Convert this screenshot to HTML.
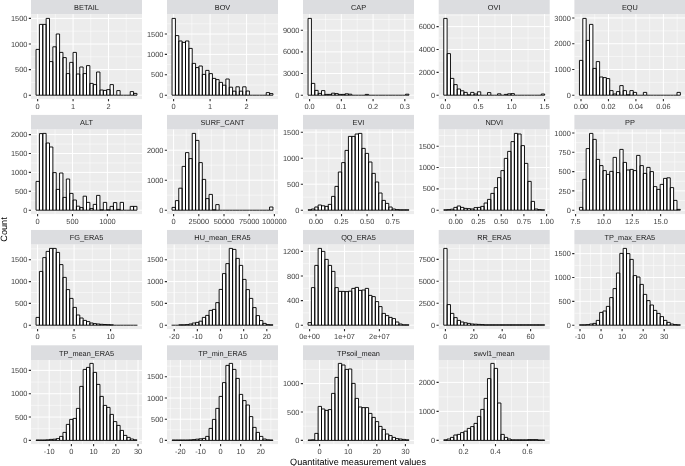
<!DOCTYPE html>
<html><head><meta charset="utf-8"><title>Histograms</title>
<style>html,body{margin:0;padding:0;background:#fff}svg{display:block}</style></head>
<body>
<svg width="685" height="466" viewBox="0 0 685 466" text-rendering="geometricPrecision" font-family='"Liberation Sans", Arial, Helvetica, sans-serif'>
<rect x="0" y="0" width="685" height="466" fill="#ffffff"/>
<rect x="31" y="-0.1" width="111" height="14.2" fill="#dcdde0"/>
<text x="86.5" y="10.25" font-size="7.35" fill="#1a1a1a" text-anchor="middle">BETAIL</text>
<rect x="31" y="14.1" width="111" height="85" fill="#ececec"/>
<path d="M55.37 14.1V99.1M90.79 14.1V99.1M126.21 14.1V99.1M31 82.4H142M31 56.8H142M31 31.2H142" stroke="#fff" stroke-width="0.5" fill="none"/>
<path d="M37.66 14.1V99.1M73.08 14.1V99.1M108.5 14.1V99.1M31 95.2H142M31 69.6H142M31 44H142M31 18.4H142" stroke="#fff" stroke-width="1.0" fill="none"/>
<path d="M113.41 95.2H116.77M120.14 95.2H123.5M123.5 95.2H126.86M126.86 95.2H130.23" fill="none" stroke="#111" stroke-width="0.95"/>
<path d="M36.05 95.2v-45.8h3.36v45.8zM39.41 95.2v-70.8h3.36v70.8zM42.77 95.2v-70.8h3.36v70.8zM46.14 95.2v-76.8h3.36v76.8zM49.5 95.2v-33.6h3.36v33.6zM52.86 95.2v-48.4h3.36v48.4zM56.23 95.2v-61.2h3.36v61.2zM59.59 95.2v-42.8h3.36v42.8zM62.95 95.2v-37.6h3.36v37.6zM66.32 95.2v-21.6h3.36v21.6zM69.68 95.2v-32.8h3.36v32.8zM73.05 95.2v-42.8h3.36v42.8zM76.41 95.2v-21.2h3.36v21.2zM79.77 95.2v-28.2h3.36v28.2zM83.14 95.2v-21.6h3.36v21.6zM86.5 95.2v-29.6h3.36v29.6zM89.86 95.2v-11.8h3.36v11.8zM93.23 95.2v-10.6h3.36v10.6zM96.59 95.2v-23.2h3.36v23.2zM99.95 95.2v-5.2h3.36v5.2zM103.32 95.2v-4.8h3.36v4.8zM106.68 95.2v-5.6h3.36v5.6zM110.05 95.2v-10.6h3.36v10.6zM116.77 95.2v-4.6h3.36v4.6zM130.23 95.2v-3.6h3.36v3.6zM133.59 95.2v-1.8h3.36v1.8z" fill="#fff" stroke="#000" stroke-width="0.92" stroke-linejoin="miter"/>
<path d="M37.66 99.1v2.2M73.08 99.1v2.2M108.5 99.1v2.2M31 95.2h-2.2M31 69.6h-2.2M31 44h-2.2M31 18.4h-2.2" stroke="#2b2b2b" stroke-width="1.1" fill="none"/>
<text x="37.66" y="109" font-size="7.4" fill="#424242" text-anchor="middle">0</text>
<text x="73.08" y="109" font-size="7.4" fill="#424242" text-anchor="middle">1</text>
<text x="108.5" y="109" font-size="7.4" fill="#424242" text-anchor="middle">2</text>
<text x="27.4" y="97.8" font-size="7.4" fill="#424242" text-anchor="end">0</text>
<text x="27.4" y="72.2" font-size="7.4" fill="#424242" text-anchor="end">500</text>
<text x="27.4" y="46.6" font-size="7.4" fill="#424242" text-anchor="end">1000</text>
<text x="27.4" y="21" font-size="7.4" fill="#424242" text-anchor="end">1500</text>
<rect x="167" y="-0.1" width="111" height="14.2" fill="#dcdde0"/>
<text x="222.5" y="10.25" font-size="7.35" fill="#1a1a1a" text-anchor="middle">BOV</text>
<rect x="167" y="14.1" width="111" height="85" fill="#ececec"/>
<path d="M191.85 14.1V99.1M228.35 14.1V99.1M264.85 14.1V99.1M167 85H278M167 64.6H278M167 44.2H278M167 23.8H278" stroke="#fff" stroke-width="0.5" fill="none"/>
<path d="M173.6 14.1V99.1M210.1 14.1V99.1M246.6 14.1V99.1M167 95.2H278M167 74.8H278M167 54.4H278M167 34H278" stroke="#fff" stroke-width="1.0" fill="none"/>
<path d="M249.41 95.2H252.77M252.77 95.2H256.14M256.14 95.2H259.5M259.5 95.2H262.86M262.86 95.2H266.23" fill="none" stroke="#111" stroke-width="0.95"/>
<path d="M172.05 95.2v-76.8h3.36v76.8zM175.41 95.2v-59.6h3.36v59.6zM178.77 95.2v-54.2h3.36v54.2zM182.14 95.2v-52.8h3.36v52.8zM185.5 95.2v-54.2h3.36v54.2zM188.86 95.2v-46.8h3.36v46.8zM192.23 95.2v-31.8h3.36v31.8zM195.59 95.2v-27.6h3.36v27.6zM198.95 95.2v-29.2h3.36v29.2zM202.32 95.2v-20.8h3.36v20.8zM205.68 95.2v-24.8h3.36v24.8zM209.05 95.2v-21.6h3.36v21.6zM212.41 95.2v-16.8h3.36v16.8zM215.77 95.2v-15.6h3.36v15.6zM219.14 95.2v-12.8h3.36v12.8zM222.5 95.2v-10h3.36v10zM225.86 95.2v-16.2h3.36v16.2zM229.23 95.2v-8h3.36v8zM232.59 95.2v-4h3.36v4zM235.95 95.2v-8.4h3.36v8.4zM239.32 95.2v-4h3.36v4zM242.68 95.2v-8.4h3.36v8.4zM246.05 95.2v-4.2h3.36v4.2zM266.23 95.2v-2.6h3.36v2.6zM269.59 95.2v-1.6h3.36v1.6z" fill="#fff" stroke="#000" stroke-width="0.92" stroke-linejoin="miter"/>
<path d="M173.6 99.1v2.2M210.1 99.1v2.2M246.6 99.1v2.2M167 95.2h-2.2M167 74.8h-2.2M167 54.4h-2.2M167 34h-2.2" stroke="#2b2b2b" stroke-width="1.1" fill="none"/>
<text x="173.6" y="109" font-size="7.4" fill="#424242" text-anchor="middle">0</text>
<text x="210.1" y="109" font-size="7.4" fill="#424242" text-anchor="middle">1</text>
<text x="246.6" y="109" font-size="7.4" fill="#424242" text-anchor="middle">2</text>
<text x="163.4" y="97.8" font-size="7.4" fill="#424242" text-anchor="end">0</text>
<text x="163.4" y="77.4" font-size="7.4" fill="#424242" text-anchor="end">500</text>
<text x="163.4" y="57" font-size="7.4" fill="#424242" text-anchor="end">1000</text>
<text x="163.4" y="36.6" font-size="7.4" fill="#424242" text-anchor="end">1500</text>
<rect x="303" y="-0.1" width="111" height="14.2" fill="#dcdde0"/>
<text x="358.5" y="10.25" font-size="7.35" fill="#1a1a1a" text-anchor="middle">CAP</text>
<rect x="303" y="14.1" width="111" height="85" fill="#ececec"/>
<path d="M325.47 14.1V99.1M357.21 14.1V99.1M388.95 14.1V99.1M303 84.37H414M303 62.71H414M303 41.05H414M303 19.39H414" stroke="#fff" stroke-width="0.5" fill="none"/>
<path d="M309.6 14.1V99.1M341.34 14.1V99.1M373.08 14.1V99.1M404.82 14.1V99.1M303 95.2H414M303 73.54H414M303 51.88H414M303 30.22H414" stroke="#fff" stroke-width="1.0" fill="none"/>
<path d="M351.77 95.2H355.14M355.14 95.2H358.5M358.5 95.2H361.86M361.86 95.2H365.23M368.59 95.2H371.95M371.95 95.2H375.32M375.32 95.2H378.68M378.68 95.2H382.05M382.05 95.2H385.41M385.41 95.2H388.77M388.77 95.2H392.14M392.14 95.2H395.5M395.5 95.2H398.86M398.86 95.2H402.23M402.23 95.2H405.59" fill="none" stroke="#111" stroke-width="0.95"/>
<path d="M308.05 95.2v-76.8h3.36v76.8zM311.41 95.2v-11.8h3.36v11.8zM314.77 95.2v-4.8h3.36v4.8zM318.14 95.2v-1.8h3.36v1.8zM321.5 95.2v-4.6h3.36v4.6zM324.86 95.2v-0.8h3.36v0.8zM328.23 95.2v-0.8h3.36v0.8zM331.59 95.2v-2h3.36v2zM334.95 95.2v-1.6h3.36v1.6zM338.32 95.2v-0.8h3.36v0.8zM341.68 95.2v-0.8h3.36v0.8zM345.05 95.2v-1.4h3.36v1.4zM348.41 95.2v-1h3.36v1zM365.23 95.2v-0.8h3.36v0.8zM405.59 95.2v-1h3.36v1z" fill="#fff" stroke="#000" stroke-width="0.92" stroke-linejoin="miter"/>
<path d="M309.6 99.1v2.2M341.34 99.1v2.2M373.08 99.1v2.2M404.82 99.1v2.2M303 95.2h-2.2M303 73.54h-2.2M303 51.88h-2.2M303 30.22h-2.2" stroke="#2b2b2b" stroke-width="1.1" fill="none"/>
<text x="309.6" y="109" font-size="7.4" fill="#424242" text-anchor="middle">0.0</text>
<text x="341.34" y="109" font-size="7.4" fill="#424242" text-anchor="middle">0.1</text>
<text x="373.08" y="109" font-size="7.4" fill="#424242" text-anchor="middle">0.2</text>
<text x="404.82" y="109" font-size="7.4" fill="#424242" text-anchor="middle">0.3</text>
<text x="299.4" y="97.8" font-size="7.4" fill="#424242" text-anchor="end">0</text>
<text x="299.4" y="76.14" font-size="7.4" fill="#424242" text-anchor="end">3000</text>
<text x="299.4" y="54.48" font-size="7.4" fill="#424242" text-anchor="end">6000</text>
<text x="299.4" y="32.82" font-size="7.4" fill="#424242" text-anchor="end">9000</text>
<rect x="438.7" y="-0.1" width="111" height="14.2" fill="#dcdde0"/>
<text x="494.2" y="10.25" font-size="7.35" fill="#1a1a1a" text-anchor="middle">OVI</text>
<rect x="438.7" y="14.1" width="111" height="85" fill="#ececec"/>
<path d="M461.93 14.1V99.1M494.99 14.1V99.1M528.05 14.1V99.1M438.7 83.77H549.7M438.7 60.91H549.7M438.7 38.05H549.7M438.7 15.19H549.7" stroke="#fff" stroke-width="0.5" fill="none"/>
<path d="M445.4 14.1V99.1M478.46 14.1V99.1M511.52 14.1V99.1M544.58 14.1V99.1M438.7 95.2H549.7M438.7 72.34H549.7M438.7 49.48H549.7M438.7 26.62H549.7" stroke="#fff" stroke-width="1.0" fill="none"/>
<path d="M480.75 95.2H484.11M484.11 95.2H487.47M490.84 95.2H494.2M494.2 95.2H497.56M500.93 95.2H504.29M514.38 95.2H517.75M517.75 95.2H521.11M521.11 95.2H524.47M524.47 95.2H527.84M527.84 95.2H531.2M531.2 95.2H534.56M534.56 95.2H537.93M537.93 95.2H541.29" fill="none" stroke="#111" stroke-width="0.95"/>
<path d="M443.75 95.2v-76.8h3.36v76.8zM447.11 95.2v-41.6h3.36v41.6zM450.47 95.2v-16.8h3.36v16.8zM453.84 95.2v-10.6h3.36v10.6zM457.2 95.2v-6.2h3.36v6.2zM460.56 95.2v-4.4h3.36v4.4zM463.93 95.2v-2.8h3.36v2.8zM467.29 95.2v-0.4h3.36v0.4zM470.65 95.2v-2.8h3.36v2.8zM474.02 95.2v-1.2h3.36v1.2zM477.38 95.2v-3.4h3.36v3.4zM487.47 95.2v-2.6h3.36v2.6zM497.56 95.2v-1.4h3.36v1.4zM504.29 95.2v-0.8h3.36v0.8zM507.65 95.2v-1.4h3.36v1.4zM511.02 95.2v-1.6h3.36v1.6zM541.29 95.2v-1.2h3.36v1.2z" fill="#fff" stroke="#000" stroke-width="0.92" stroke-linejoin="miter"/>
<path d="M445.4 99.1v2.2M478.46 99.1v2.2M511.52 99.1v2.2M544.58 99.1v2.2M438.7 95.2h-2.2M438.7 72.34h-2.2M438.7 49.48h-2.2M438.7 26.62h-2.2" stroke="#2b2b2b" stroke-width="1.1" fill="none"/>
<text x="445.4" y="109" font-size="7.4" fill="#424242" text-anchor="middle">0.0</text>
<text x="478.46" y="109" font-size="7.4" fill="#424242" text-anchor="middle">0.5</text>
<text x="511.52" y="109" font-size="7.4" fill="#424242" text-anchor="middle">1.0</text>
<text x="544.58" y="109" font-size="7.4" fill="#424242" text-anchor="middle">1.5</text>
<text x="435.1" y="97.8" font-size="7.4" fill="#424242" text-anchor="end">0</text>
<text x="435.1" y="74.94" font-size="7.4" fill="#424242" text-anchor="end">2000</text>
<text x="435.1" y="52.08" font-size="7.4" fill="#424242" text-anchor="end">4000</text>
<text x="435.1" y="29.22" font-size="7.4" fill="#424242" text-anchor="end">6000</text>
<rect x="574.4" y="-0.1" width="111" height="14.2" fill="#dcdde0"/>
<text x="629.9" y="10.25" font-size="7.35" fill="#1a1a1a" text-anchor="middle">EQU</text>
<rect x="574.4" y="14.1" width="111" height="85" fill="#ececec"/>
<path d="M594.73 14.1V99.1M622.19 14.1V99.1M649.65 14.1V99.1M677.11 14.1V99.1M574.4 82.33H685.4M574.4 56.59H685.4M574.4 30.85H685.4" stroke="#fff" stroke-width="0.5" fill="none"/>
<path d="M581 14.1V99.1M608.46 14.1V99.1M635.92 14.1V99.1M663.38 14.1V99.1M574.4 95.2H685.4M574.4 69.46H685.4M574.4 43.72H685.4M574.4 17.98H685.4" stroke="#fff" stroke-width="1.0" fill="none"/>
<path d="M636.63 95.2H639.99M639.99 95.2H643.35M646.72 95.2H650.08M650.08 95.2H653.45M653.45 95.2H656.81M656.81 95.2H660.17M660.17 95.2H663.54M663.54 95.2H666.9M666.9 95.2H670.26M670.26 95.2H673.63M673.63 95.2H676.99" fill="none" stroke="#111" stroke-width="0.95"/>
<path d="M579.45 95.2v-34.8h3.36v34.8zM582.81 95.2v-76.8h3.36v76.8zM586.17 95.2v-54.8h3.36v54.8zM589.54 95.2v-70.8h3.36v70.8zM592.9 95.2v-26.8h3.36v26.8zM596.26 95.2v-33.6h3.36v33.6zM599.63 95.2v-18.2h3.36v18.2zM602.99 95.2v-17.6h3.36v17.6zM606.35 95.2v-16.6h3.36v16.6zM609.72 95.2v-4.6h3.36v4.6zM613.08 95.2v-1.2h3.36v1.2zM616.45 95.2v-3.6h3.36v3.6zM619.81 95.2v-9.6h3.36v9.6zM623.17 95.2v-4.6h3.36v4.6zM626.54 95.2v-0.4h3.36v0.4zM629.9 95.2v-4.6h3.36v4.6zM633.26 95.2v-2.8h3.36v2.8zM643.35 95.2v-2.8h3.36v2.8zM676.99 95.2v-2.8h3.36v2.8z" fill="#fff" stroke="#000" stroke-width="0.92" stroke-linejoin="miter"/>
<path d="M581 99.1v2.2M608.46 99.1v2.2M635.92 99.1v2.2M663.38 99.1v2.2M574.4 95.2h-2.2M574.4 69.46h-2.2M574.4 43.72h-2.2M574.4 17.98h-2.2" stroke="#2b2b2b" stroke-width="1.1" fill="none"/>
<text x="581" y="109" font-size="7.4" fill="#424242" text-anchor="middle">0.00</text>
<text x="608.46" y="109" font-size="7.4" fill="#424242" text-anchor="middle">0.02</text>
<text x="635.92" y="109" font-size="7.4" fill="#424242" text-anchor="middle">0.04</text>
<text x="663.38" y="109" font-size="7.4" fill="#424242" text-anchor="middle">0.06</text>
<text x="570.8" y="97.8" font-size="7.4" fill="#424242" text-anchor="end">0</text>
<text x="570.8" y="72.06" font-size="7.4" fill="#424242" text-anchor="end">1000</text>
<text x="570.8" y="46.32" font-size="7.4" fill="#424242" text-anchor="end">2000</text>
<text x="570.8" y="20.58" font-size="7.4" fill="#424242" text-anchor="end">3000</text>
<rect x="31" y="114.9" width="111" height="14.65" fill="#dcdde0"/>
<text x="86.5" y="125.25" font-size="7.35" fill="#1a1a1a" text-anchor="middle">ALT</text>
<rect x="31" y="129.55" width="111" height="84.55" fill="#ececec"/>
<path d="M55.05 129.55V214.1M89.95 129.55V214.1M124.85 129.55V214.1M31 200.75H142M31 181.85H142M31 162.95H142M31 144.05H142" stroke="#fff" stroke-width="0.5" fill="none"/>
<path d="M37.6 129.55V214.1M72.5 129.55V214.1M107.4 129.55V214.1M31 210.2H142M31 191.3H142M31 172.4H142M31 153.5H142M31 134.6H142" stroke="#fff" stroke-width="1.0" fill="none"/>
<path d="M123.5 210.2H126.86M126.86 210.2H130.23" fill="none" stroke="#111" stroke-width="0.95"/>
<path d="M36.05 210.2v-28.8h3.36v28.8zM39.41 210.2v-76.6h3.36v76.6zM42.77 210.2v-76.8h3.36v76.8zM46.14 210.2v-67.2h3.36v67.2zM49.5 210.2v-63.2h3.36v63.2zM52.86 210.2v-37.6h3.36v37.6zM56.23 210.2v-20.8h3.36v20.8zM59.59 210.2v-37.2h3.36v37.2zM62.95 210.2v-12.8h3.36v12.8zM66.32 210.2v-31.2h3.36v31.2zM69.68 210.2v-16.8h3.36v16.8zM73.05 210.2v-10.2h3.36v10.2zM76.41 210.2v-4h3.36v4zM79.77 210.2v-2.6h3.36v2.6zM83.14 210.2v-14h3.36v14zM86.5 210.2v-7.8h3.36v7.8zM89.86 210.2v-1.6h3.36v1.6zM93.23 210.2v-5.8h3.36v5.8zM96.59 210.2v-14.8h3.36v14.8zM99.95 210.2v-0.4h3.36v0.4zM103.32 210.2v-7.8h3.36v7.8zM106.68 210.2v-0.4h3.36v0.4zM110.05 210.2v-3.8h3.36v3.8zM113.41 210.2v-7.6h3.36v7.6zM116.77 210.2v-0.8h3.36v0.8zM120.14 210.2v-7.8h3.36v7.8zM130.23 210.2v-3.8h3.36v3.8zM133.59 210.2v-3.8h3.36v3.8z" fill="#fff" stroke="#000" stroke-width="0.92" stroke-linejoin="miter"/>
<path d="M37.6 214.1v2.2M72.5 214.1v2.2M107.4 214.1v2.2M31 210.2h-2.2M31 191.3h-2.2M31 172.4h-2.2M31 153.5h-2.2M31 134.6h-2.2" stroke="#2b2b2b" stroke-width="1.1" fill="none"/>
<text x="37.6" y="224" font-size="7.4" fill="#424242" text-anchor="middle">0</text>
<text x="72.5" y="224" font-size="7.4" fill="#424242" text-anchor="middle">500</text>
<text x="107.4" y="224" font-size="7.4" fill="#424242" text-anchor="middle">1000</text>
<text x="27.4" y="212.8" font-size="7.4" fill="#424242" text-anchor="end">0</text>
<text x="27.4" y="193.9" font-size="7.4" fill="#424242" text-anchor="end">500</text>
<text x="27.4" y="175" font-size="7.4" fill="#424242" text-anchor="end">1000</text>
<text x="27.4" y="156.1" font-size="7.4" fill="#424242" text-anchor="end">1500</text>
<text x="27.4" y="137.2" font-size="7.4" fill="#424242" text-anchor="end">2000</text>
<rect x="167" y="114.9" width="111" height="14.65" fill="#dcdde0"/>
<text x="222.5" y="125.25" font-size="7.35" fill="#1a1a1a" text-anchor="middle">SURF_CANT</text>
<rect x="167" y="129.55" width="111" height="84.55" fill="#ececec"/>
<path d="M186.2 129.55V214.1M211.4 129.55V214.1M236.6 129.55V214.1M261.8 129.55V214.1M167 195.2H278M167 165.2H278M167 135.2H278" stroke="#fff" stroke-width="0.5" fill="none"/>
<path d="M173.6 129.55V214.1M198.8 129.55V214.1M224 129.55V214.1M249.2 129.55V214.1M274.4 129.55V214.1M167 210.2H278M167 180.2H278M167 150.2H278" stroke="#fff" stroke-width="1.0" fill="none"/>
<path d="M219.14 210.2H222.5M222.5 210.2H225.86M225.86 210.2H229.23M229.23 210.2H232.59M232.59 210.2H235.95M235.95 210.2H239.32M239.32 210.2H242.68M242.68 210.2H246.05M246.05 210.2H249.41M249.41 210.2H252.77M252.77 210.2H256.14M256.14 210.2H259.5M259.5 210.2H262.86M262.86 210.2H266.23M266.23 210.2H269.59" fill="none" stroke="#111" stroke-width="0.95"/>
<path d="M172.05 210.2v-2.8h3.36v2.8zM175.41 210.2v-9.6h3.36v9.6zM178.77 210.2v-22h3.36v22zM182.14 210.2v-43.8h3.36v43.8zM185.5 210.2v-57.6h3.36v57.6zM188.86 210.2v-51.6h3.36v51.6zM192.23 210.2v-76.8h3.36v76.8zM195.59 210.2v-69.8h3.36v69.8zM198.95 210.2v-47.6h3.36v47.6zM202.32 210.2v-30.8h3.36v30.8zM205.68 210.2v-11.6h3.36v11.6zM209.05 210.2v-15.8h3.36v15.8zM212.41 210.2v-0.4h3.36v0.4zM215.77 210.2v-5.6h3.36v5.6zM269.59 210.2v-3.2h3.36v3.2z" fill="#fff" stroke="#000" stroke-width="0.92" stroke-linejoin="miter"/>
<path d="M173.6 214.1v2.2M198.8 214.1v2.2M224 214.1v2.2M249.2 214.1v2.2M274.4 214.1v2.2M167 210.2h-2.2M167 180.2h-2.2M167 150.2h-2.2" stroke="#2b2b2b" stroke-width="1.1" fill="none"/>
<text x="173.6" y="224" font-size="7.4" fill="#424242" text-anchor="middle">0</text>
<text x="198.8" y="224" font-size="7.4" fill="#424242" text-anchor="middle">25000</text>
<text x="224" y="224" font-size="7.4" fill="#424242" text-anchor="middle">50000</text>
<text x="249.2" y="224" font-size="7.4" fill="#424242" text-anchor="middle">75000</text>
<text x="274.4" y="224" font-size="7.4" fill="#424242" text-anchor="middle">100000</text>
<text x="163.4" y="212.8" font-size="7.4" fill="#424242" text-anchor="end">0</text>
<text x="163.4" y="182.8" font-size="7.4" fill="#424242" text-anchor="end">1000</text>
<text x="163.4" y="152.8" font-size="7.4" fill="#424242" text-anchor="end">2000</text>
<rect x="303" y="114.9" width="111" height="14.65" fill="#dcdde0"/>
<text x="358.5" y="125.25" font-size="7.35" fill="#1a1a1a" text-anchor="middle">EVI</text>
<rect x="303" y="129.55" width="111" height="84.55" fill="#ececec"/>
<path d="M328.77 129.55V214.1M354.31 129.55V214.1M379.85 129.55V214.1M405.39 129.55V214.1M303 197.2H414M303 171.2H414M303 145.2H414" stroke="#fff" stroke-width="0.5" fill="none"/>
<path d="M316 129.55V214.1M341.54 129.55V214.1M367.08 129.55V214.1M392.62 129.55V214.1M303 210.2H414M303 184.2H414M303 158.2H414M303 132.2H414" stroke="#fff" stroke-width="1.0" fill="none"/>
<path d="M308.05 210.2v-0.4h3.36v0.4zM311.41 210.2v-1.2h3.36v1.2zM314.77 210.2v-3.2h3.36v3.2zM318.14 210.2v-5.2h3.36v5.2zM321.5 210.2v-4.4h3.36v4.4zM324.86 210.2v-3.8h3.36v3.8zM328.23 210.2v-5.8h3.36v5.8zM331.59 210.2v-13.8h3.36v13.8zM334.95 210.2v-23.8h3.36v23.8zM338.32 210.2v-38.2h3.36v38.2zM341.68 210.2v-47.6h3.36v47.6zM345.05 210.2v-59.8h3.36v59.8zM348.41 210.2v-73.8h3.36v73.8zM351.77 210.2v-73.8h3.36v73.8zM355.14 210.2v-76.2h3.36v76.2zM358.5 210.2v-76.8h3.36v76.8zM361.86 210.2v-61.8h3.36v61.8zM365.23 210.2v-56.8h3.36v56.8zM368.59 210.2v-48.2h3.36v48.2zM371.95 210.2v-36.8h3.36v36.8zM375.32 210.2v-28.2h3.36v28.2zM378.68 210.2v-17.2h3.36v17.2zM382.05 210.2v-9.8h3.36v9.8zM385.41 210.2v-6.8h3.36v6.8zM388.77 210.2v-3.2h3.36v3.2zM392.14 210.2v-1.2h3.36v1.2zM395.5 210.2v-0.6h3.36v0.6zM398.86 210.2v-0.4h3.36v0.4zM402.23 210.2v-0.4h3.36v0.4zM405.59 210.2v-0.4h3.36v0.4z" fill="#fff" stroke="#000" stroke-width="0.92" stroke-linejoin="miter"/>
<path d="M316 214.1v2.2M341.54 214.1v2.2M367.08 214.1v2.2M392.62 214.1v2.2M303 210.2h-2.2M303 184.2h-2.2M303 158.2h-2.2M303 132.2h-2.2" stroke="#2b2b2b" stroke-width="1.1" fill="none"/>
<text x="316" y="224" font-size="7.4" fill="#424242" text-anchor="middle">0.00</text>
<text x="341.54" y="224" font-size="7.4" fill="#424242" text-anchor="middle">0.25</text>
<text x="367.08" y="224" font-size="7.4" fill="#424242" text-anchor="middle">0.50</text>
<text x="392.62" y="224" font-size="7.4" fill="#424242" text-anchor="middle">0.75</text>
<text x="299.4" y="212.8" font-size="7.4" fill="#424242" text-anchor="end">0</text>
<text x="299.4" y="186.8" font-size="7.4" fill="#424242" text-anchor="end">500</text>
<text x="299.4" y="160.8" font-size="7.4" fill="#424242" text-anchor="end">1000</text>
<text x="299.4" y="134.8" font-size="7.4" fill="#424242" text-anchor="end">1500</text>
<rect x="438.7" y="114.9" width="111" height="14.65" fill="#dcdde0"/>
<text x="494.2" y="125.25" font-size="7.35" fill="#1a1a1a" text-anchor="middle">NDVI</text>
<rect x="438.7" y="129.55" width="111" height="84.55" fill="#ececec"/>
<path d="M444.45 129.55V214.1M467.15 129.55V214.1M489.85 129.55V214.1M512.55 129.55V214.1M535.25 129.55V214.1M438.7 199.53H549.7M438.7 178.19H549.7M438.7 156.85H549.7M438.7 135.51H549.7" stroke="#fff" stroke-width="0.5" fill="none"/>
<path d="M455.8 129.55V214.1M478.5 129.55V214.1M501.2 129.55V214.1M523.9 129.55V214.1M546.6 129.55V214.1M438.7 210.2H549.7M438.7 188.86H549.7M438.7 167.52H549.7M438.7 146.18H549.7" stroke="#fff" stroke-width="1.0" fill="none"/>
<path d="M443.75 210.2v-0.4h3.36v0.4zM447.11 210.2v-0.6h3.36v0.6zM450.47 210.2v-1h3.36v1zM453.84 210.2v-2.8h3.36v2.8zM457.2 210.2v-4.2h3.36v4.2zM460.56 210.2v-2.8h3.36v2.8zM463.93 210.2v-1.8h3.36v1.8zM467.29 210.2v-1.6h3.36v1.6zM470.65 210.2v-1.2h3.36v1.2zM474.02 210.2v-2.6h3.36v2.6zM477.38 210.2v-2.8h3.36v2.8zM480.75 210.2v-3.8h3.36v3.8zM484.11 210.2v-7.2h3.36v7.2zM487.47 210.2v-10.8h3.36v10.8zM490.84 210.2v-16.8h3.36v16.8zM494.2 210.2v-22.6h3.36v22.6zM497.56 210.2v-32.6h3.36v32.6zM500.93 210.2v-39.6h3.36v39.6zM504.29 210.2v-51.8h3.36v51.8zM507.65 210.2v-58.8h3.36v58.8zM511.02 210.2v-68.6h3.36v68.6zM514.38 210.2v-76.8h3.36v76.8zM517.75 210.2v-76.2h3.36v76.2zM521.11 210.2v-64.6h3.36v64.6zM524.47 210.2v-46.8h3.36v46.8zM527.84 210.2v-28.8h3.36v28.8zM531.2 210.2v-8.8h3.36v8.8zM534.56 210.2v-1.2h3.36v1.2zM537.93 210.2v-0.6h3.36v0.6zM541.29 210.2v-0.4h3.36v0.4z" fill="#fff" stroke="#000" stroke-width="0.92" stroke-linejoin="miter"/>
<path d="M455.8 214.1v2.2M478.5 214.1v2.2M501.2 214.1v2.2M523.9 214.1v2.2M546.6 214.1v2.2M438.7 210.2h-2.2M438.7 188.86h-2.2M438.7 167.52h-2.2M438.7 146.18h-2.2" stroke="#2b2b2b" stroke-width="1.1" fill="none"/>
<text x="455.8" y="224" font-size="7.4" fill="#424242" text-anchor="middle">0.00</text>
<text x="478.5" y="224" font-size="7.4" fill="#424242" text-anchor="middle">0.25</text>
<text x="501.2" y="224" font-size="7.4" fill="#424242" text-anchor="middle">0.50</text>
<text x="523.9" y="224" font-size="7.4" fill="#424242" text-anchor="middle">0.75</text>
<text x="546.6" y="224" font-size="7.4" fill="#424242" text-anchor="middle">1.00</text>
<text x="435.1" y="212.8" font-size="7.4" fill="#424242" text-anchor="end">0</text>
<text x="435.1" y="191.46" font-size="7.4" fill="#424242" text-anchor="end">500</text>
<text x="435.1" y="170.12" font-size="7.4" fill="#424242" text-anchor="end">1000</text>
<text x="435.1" y="148.78" font-size="7.4" fill="#424242" text-anchor="end">1500</text>
<rect x="574.4" y="114.9" width="111" height="14.65" fill="#dcdde0"/>
<text x="629.9" y="125.25" font-size="7.35" fill="#1a1a1a" text-anchor="middle">PP</text>
<rect x="574.4" y="129.55" width="111" height="84.55" fill="#ececec"/>
<path d="M589.77 129.55V214.1M618.11 129.55V214.1M646.45 129.55V214.1M674.79 129.55V214.1M574.4 200.55H685.4M574.4 181.25H685.4M574.4 161.95H685.4M574.4 142.65H685.4" stroke="#fff" stroke-width="0.5" fill="none"/>
<path d="M575.6 129.55V214.1M603.94 129.55V214.1M632.28 129.55V214.1M660.62 129.55V214.1M574.4 210.2H685.4M574.4 190.9H685.4M574.4 171.6H685.4M574.4 152.3H685.4M574.4 133H685.4" stroke="#fff" stroke-width="1.0" fill="none"/>
<path d="M579.45 210.2v-2.8h3.36v2.8zM582.81 210.2v-30.8h3.36v30.8zM586.17 210.2v-61.6h3.36v61.6zM589.54 210.2v-76.8h3.36v76.8zM592.9 210.2v-70.8h3.36v70.8zM596.26 210.2v-50.8h3.36v50.8zM599.63 210.2v-44.6h3.36v44.6zM602.99 210.2v-39.6h3.36v39.6zM606.35 210.2v-35.8h3.36v35.8zM609.72 210.2v-38.8h3.36v38.8zM613.08 210.2v-52.8h3.36v52.8zM616.45 210.2v-37.6h3.36v37.6zM619.81 210.2v-60.8h3.36v60.8zM623.17 210.2v-47.8h3.36v47.8zM626.54 210.2v-40.2h3.36v40.2zM629.9 210.2v-40.8h3.36v40.8zM633.26 210.2v-39.6h3.36v39.6zM636.63 210.2v-54.8h3.36v54.8zM639.99 210.2v-44.6h3.36v44.6zM643.35 210.2v-36.8h3.36v36.8zM646.72 210.2v-42.8h3.36v42.8zM650.08 210.2v-38.6h3.36v38.6zM653.45 210.2v-23.6h3.36v23.6zM656.81 210.2v-20.8h3.36v20.8zM660.17 210.2v-25.8h3.36v25.8zM663.54 210.2v-31.8h3.36v31.8zM666.9 210.2v-32.4h3.36v32.4zM670.26 210.2v-22.6h3.36v22.6zM673.63 210.2v-9.8h3.36v9.8zM676.99 210.2v-0.8h3.36v0.8z" fill="#fff" stroke="#000" stroke-width="0.92" stroke-linejoin="miter"/>
<path d="M575.6 214.1v2.2M603.94 214.1v2.2M632.28 214.1v2.2M660.62 214.1v2.2M574.4 210.2h-2.2M574.4 190.9h-2.2M574.4 171.6h-2.2M574.4 152.3h-2.2M574.4 133h-2.2" stroke="#2b2b2b" stroke-width="1.1" fill="none"/>
<text x="575.6" y="224" font-size="7.4" fill="#424242" text-anchor="middle">7.5</text>
<text x="603.94" y="224" font-size="7.4" fill="#424242" text-anchor="middle">10.0</text>
<text x="632.28" y="224" font-size="7.4" fill="#424242" text-anchor="middle">12.5</text>
<text x="660.62" y="224" font-size="7.4" fill="#424242" text-anchor="middle">15.0</text>
<text x="570.8" y="212.8" font-size="7.4" fill="#424242" text-anchor="end">0</text>
<text x="570.8" y="193.5" font-size="7.4" fill="#424242" text-anchor="end">250</text>
<text x="570.8" y="174.2" font-size="7.4" fill="#424242" text-anchor="end">500</text>
<text x="570.8" y="154.9" font-size="7.4" fill="#424242" text-anchor="end">750</text>
<text x="570.8" y="135.6" font-size="7.4" fill="#424242" text-anchor="end">1000</text>
<rect x="31" y="229.95" width="111" height="14.65" fill="#dcdde0"/>
<text x="86.5" y="240.3" font-size="7.35" fill="#1a1a1a" text-anchor="middle">FG_ERA5</text>
<rect x="31" y="244.6" width="111" height="84.5" fill="#ececec"/>
<path d="M55.85 244.6V329.1M92.35 244.6V329.1M128.85 244.6V329.1M31 314.3H142M31 292.5H142M31 270.7H142M31 248.9H142" stroke="#fff" stroke-width="0.5" fill="none"/>
<path d="M37.6 244.6V329.1M74.1 244.6V329.1M110.6 244.6V329.1M31 325.2H142M31 303.4H142M31 281.6H142M31 259.8H142" stroke="#fff" stroke-width="1.0" fill="none"/>
<path d="M113.41 325.2H116.77M116.77 325.2H120.14M120.14 325.2H123.5M123.5 325.2H126.86M126.86 325.2H130.23M130.23 325.2H133.59M133.59 325.2H137.45" fill="none" stroke="#111" stroke-width="0.95"/>
<path d="M36.05 325.2v-7.8h3.36v7.8zM39.41 325.2v-53.8h3.36v53.8zM42.77 325.2v-67.6h3.36v67.6zM46.14 325.2v-73.8h3.36v73.8zM49.5 325.2v-76.8h3.36v76.8zM52.86 325.2v-76.8h3.36v76.8zM56.23 325.2v-72.8h3.36v72.8zM59.59 325.2v-60.6h3.36v60.6zM62.95 325.2v-47.8h3.36v47.8zM66.32 325.2v-35.6h3.36v35.6zM69.68 325.2v-26.8h3.36v26.8zM73.05 325.2v-17.8h3.36v17.8zM76.41 325.2v-10.2h3.36v10.2zM79.77 325.2v-7.2h3.36v7.2zM83.14 325.2v-4.8h3.36v4.8zM86.5 325.2v-3.6h3.36v3.6zM89.86 325.2v-2.2h3.36v2.2zM93.23 325.2v-1.6h3.36v1.6zM96.59 325.2v-1.2h3.36v1.2zM99.95 325.2v-0.9h3.36v0.9zM103.32 325.2v-0.7h3.36v0.7zM106.68 325.2v-0.54h3.36v0.54zM110.05 325.2v-0.4h3.36v0.4z" fill="#fff" stroke="#000" stroke-width="0.92" stroke-linejoin="miter"/>
<path d="M37.6 329.1v2.2M74.1 329.1v2.2M110.6 329.1v2.2M31 325.2h-2.2M31 303.4h-2.2M31 281.6h-2.2M31 259.8h-2.2" stroke="#2b2b2b" stroke-width="1.1" fill="none"/>
<text x="37.6" y="339" font-size="7.4" fill="#424242" text-anchor="middle">0</text>
<text x="74.1" y="339" font-size="7.4" fill="#424242" text-anchor="middle">5</text>
<text x="110.6" y="339" font-size="7.4" fill="#424242" text-anchor="middle">10</text>
<text x="27.4" y="327.8" font-size="7.4" fill="#424242" text-anchor="end">0</text>
<text x="27.4" y="306" font-size="7.4" fill="#424242" text-anchor="end">500</text>
<text x="27.4" y="284.2" font-size="7.4" fill="#424242" text-anchor="end">1000</text>
<text x="27.4" y="262.4" font-size="7.4" fill="#424242" text-anchor="end">1500</text>
<rect x="167" y="229.95" width="111" height="14.65" fill="#dcdde0"/>
<text x="222.5" y="240.3" font-size="7.35" fill="#1a1a1a" text-anchor="middle">HU_mean_ERA5</text>
<rect x="167" y="244.6" width="111" height="84.5" fill="#ececec"/>
<path d="M185.77 244.6V329.1M208.92 244.6V329.1M232.07 244.6V329.1M255.22 244.6V329.1M167 314.3H278M167 292.5H278M167 270.7H278M167 248.9H278" stroke="#fff" stroke-width="0.5" fill="none"/>
<path d="M174.2 244.6V329.1M197.35 244.6V329.1M220.5 244.6V329.1M243.65 244.6V329.1M266.8 244.6V329.1M167 325.2H278M167 303.4H278M167 281.6H278M167 259.8H278" stroke="#fff" stroke-width="1.0" fill="none"/>
<path d="M171.55 325.2H175.41M175.41 325.2H178.77" fill="none" stroke="#111" stroke-width="0.95"/>
<path d="M178.77 325.2v-0.4h3.36v0.4zM182.14 325.2v-0.4h3.36v0.4zM185.5 325.2v-0.6h3.36v0.6zM188.86 325.2v-1.2h3.36v1.2zM192.23 325.2v-2.2h3.36v2.2zM195.59 325.2v-2.8h3.36v2.8zM198.95 325.2v-4h3.36v4zM202.32 325.2v-7.8h3.36v7.8zM205.68 325.2v-9.8h3.36v9.8zM209.05 325.2v-14.8h3.36v14.8zM212.41 325.2v-15.8h3.36v15.8zM215.77 325.2v-22.6h3.36v22.6zM219.14 325.2v-35.8h3.36v35.8zM222.5 325.2v-51.6h3.36v51.6zM225.86 325.2v-61.6h3.36v61.6zM229.23 325.2v-76.8h3.36v76.8zM232.59 325.2v-75.8h3.36v75.8zM235.95 325.2v-66.8h3.36v66.8zM239.32 325.2v-59.8h3.36v59.8zM242.68 325.2v-45.8h3.36v45.8zM246.05 325.2v-35.6h3.36v35.6zM249.41 325.2v-26.8h3.36v26.8zM252.77 325.2v-17.6h3.36v17.6zM256.14 325.2v-9.6h3.36v9.6zM259.5 325.2v-4.6h3.36v4.6zM262.86 325.2v-1.8h3.36v1.8zM266.23 325.2v-0.6h3.36v0.6zM269.59 325.2v-0.4h3.36v0.4z" fill="#fff" stroke="#000" stroke-width="0.92" stroke-linejoin="miter"/>
<path d="M174.2 329.1v2.2M197.35 329.1v2.2M220.5 329.1v2.2M243.65 329.1v2.2M266.8 329.1v2.2M167 325.2h-2.2M167 303.4h-2.2M167 281.6h-2.2M167 259.8h-2.2" stroke="#2b2b2b" stroke-width="1.1" fill="none"/>
<text x="174.2" y="339" font-size="7.4" fill="#424242" text-anchor="middle">-20</text>
<text x="197.35" y="339" font-size="7.4" fill="#424242" text-anchor="middle">-10</text>
<text x="220.5" y="339" font-size="7.4" fill="#424242" text-anchor="middle">0</text>
<text x="243.65" y="339" font-size="7.4" fill="#424242" text-anchor="middle">10</text>
<text x="266.8" y="339" font-size="7.4" fill="#424242" text-anchor="middle">20</text>
<text x="163.4" y="327.8" font-size="7.4" fill="#424242" text-anchor="end">0</text>
<text x="163.4" y="306" font-size="7.4" fill="#424242" text-anchor="end">500</text>
<text x="163.4" y="284.2" font-size="7.4" fill="#424242" text-anchor="end">1000</text>
<text x="163.4" y="262.4" font-size="7.4" fill="#424242" text-anchor="end">1500</text>
<rect x="303" y="229.95" width="111" height="14.65" fill="#dcdde0"/>
<text x="358.5" y="240.3" font-size="7.35" fill="#1a1a1a" text-anchor="middle">QQ_ERA5</text>
<rect x="303" y="244.6" width="111" height="84.5" fill="#ececec"/>
<path d="M327.05 244.6V329.1M361.95 244.6V329.1M396.85 244.6V329.1M303 312.9H414M303 288.3H414M303 263.7H414" stroke="#fff" stroke-width="0.5" fill="none"/>
<path d="M309.6 244.6V329.1M344.5 244.6V329.1M379.4 244.6V329.1M303 325.2H414M303 300.6H414M303 276H414M303 251.4H414" stroke="#fff" stroke-width="1.0" fill="none"/>
<path d="M308.05 325.2v-2.6h3.36v2.6zM311.41 325.2v-37.6h3.36v37.6zM314.77 325.2v-59.8h3.36v59.8zM318.14 325.2v-76.8h3.36v76.8zM321.5 325.2v-73.8h3.36v73.8zM324.86 325.2v-65.8h3.36v65.8zM328.23 325.2v-59.8h3.36v59.8zM331.59 325.2v-53.8h3.36v53.8zM334.95 325.2v-37.6h3.36v37.6zM338.32 325.2v-33.8h3.36v33.8zM341.68 325.2v-33.8h3.36v33.8zM345.05 325.2v-33.6h3.36v33.6zM348.41 325.2v-34h3.36v34zM351.77 325.2v-36.8h3.36v36.8zM355.14 325.2v-37.8h3.36v37.8zM358.5 325.2v-34.8h3.36v34.8zM361.86 325.2v-35.2h3.36v35.2zM365.23 325.2v-36.8h3.36v36.8zM368.59 325.2v-29.8h3.36v29.8zM371.95 325.2v-28.6h3.36v28.6zM375.32 325.2v-23.6h3.36v23.6zM378.68 325.2v-18.6h3.36v18.6zM382.05 325.2v-11.8h3.36v11.8zM385.41 325.2v-9.6h3.36v9.6zM388.77 325.2v-7.8h3.36v7.8zM392.14 325.2v-6.6h3.36v6.6zM395.5 325.2v-3.2h3.36v3.2zM398.86 325.2v-1.2h3.36v1.2zM402.23 325.2v-0.4h3.36v0.4zM405.59 325.2v-0.4h3.36v0.4z" fill="#fff" stroke="#000" stroke-width="0.92" stroke-linejoin="miter"/>
<path d="M309.6 329.1v2.2M344.5 329.1v2.2M379.4 329.1v2.2M303 325.2h-2.2M303 300.6h-2.2M303 276h-2.2M303 251.4h-2.2" stroke="#2b2b2b" stroke-width="1.1" fill="none"/>
<text x="309.6" y="339" font-size="7.4" fill="#424242" text-anchor="middle">0e+00</text>
<text x="344.5" y="339" font-size="7.4" fill="#424242" text-anchor="middle">1e+07</text>
<text x="379.4" y="339" font-size="7.4" fill="#424242" text-anchor="middle">2e+07</text>
<text x="299.4" y="327.8" font-size="7.4" fill="#424242" text-anchor="end">0</text>
<text x="299.4" y="303.2" font-size="7.4" fill="#424242" text-anchor="end">400</text>
<text x="299.4" y="278.6" font-size="7.4" fill="#424242" text-anchor="end">800</text>
<text x="299.4" y="254" font-size="7.4" fill="#424242" text-anchor="end">1200</text>
<rect x="438.7" y="229.95" width="111" height="14.65" fill="#dcdde0"/>
<text x="494.2" y="240.3" font-size="7.35" fill="#1a1a1a" text-anchor="middle">RR_ERA5</text>
<rect x="438.7" y="244.6" width="111" height="84.5" fill="#ececec"/>
<path d="M459.6 244.6V329.1M488 244.6V329.1M516.4 244.6V329.1M544.8 244.6V329.1M438.7 314.23H549.7M438.7 292.29H549.7M438.7 270.35H549.7M438.7 248.41H549.7" stroke="#fff" stroke-width="0.5" fill="none"/>
<path d="M445.4 244.6V329.1M473.8 244.6V329.1M502.2 244.6V329.1M530.6 244.6V329.1M438.7 325.2H549.7M438.7 303.26H549.7M438.7 281.32H549.7M438.7 259.38H549.7" stroke="#fff" stroke-width="1.0" fill="none"/>
<path d="M443.75 325.2v-76.8h3.36v76.8zM447.11 325.2v-20.6h3.36v20.6zM450.47 325.2v-11.8h3.36v11.8zM453.84 325.2v-7.6h3.36v7.6zM457.2 325.2v-4.8h3.36v4.8zM460.56 325.2v-3.2h3.36v3.2zM463.93 325.2v-2.4h3.36v2.4zM467.29 325.2v-1.8h3.36v1.8zM470.65 325.2v-1.2h3.36v1.2zM474.02 325.2v-1h3.36v1zM477.38 325.2v-0.8h3.36v0.8zM480.75 325.2v-0.6h3.36v0.6zM484.11 325.2v-0.4h3.36v0.4zM487.47 325.2v-0.4h3.36v0.4zM490.84 325.2v-0.4h3.36v0.4zM494.2 325.2v-0.4h3.36v0.4zM497.56 325.2v-0.4h3.36v0.4zM500.93 325.2v-0.4h3.36v0.4zM504.29 325.2v-0.4h3.36v0.4zM507.65 325.2v-0.4h3.36v0.4zM511.02 325.2v-0.4h3.36v0.4zM514.38 325.2v-0.4h3.36v0.4zM517.75 325.2v-0.4h3.36v0.4zM521.11 325.2v-0.4h3.36v0.4zM524.47 325.2v-0.4h3.36v0.4zM527.84 325.2v-0.4h3.36v0.4zM531.2 325.2v-0.4h3.36v0.4zM534.56 325.2v-0.4h3.36v0.4zM537.93 325.2v-0.4h3.36v0.4zM541.29 325.2v-0.4h3.36v0.4z" fill="#fff" stroke="#000" stroke-width="0.92" stroke-linejoin="miter"/>
<path d="M445.4 329.1v2.2M473.8 329.1v2.2M502.2 329.1v2.2M530.6 329.1v2.2M438.7 325.2h-2.2M438.7 303.26h-2.2M438.7 281.32h-2.2M438.7 259.38h-2.2" stroke="#2b2b2b" stroke-width="1.1" fill="none"/>
<text x="445.4" y="339" font-size="7.4" fill="#424242" text-anchor="middle">0</text>
<text x="473.8" y="339" font-size="7.4" fill="#424242" text-anchor="middle">20</text>
<text x="502.2" y="339" font-size="7.4" fill="#424242" text-anchor="middle">40</text>
<text x="530.6" y="339" font-size="7.4" fill="#424242" text-anchor="middle">60</text>
<text x="435.1" y="327.8" font-size="7.4" fill="#424242" text-anchor="end">0</text>
<text x="435.1" y="305.86" font-size="7.4" fill="#424242" text-anchor="end">2500</text>
<text x="435.1" y="283.92" font-size="7.4" fill="#424242" text-anchor="end">5000</text>
<text x="435.1" y="261.98" font-size="7.4" fill="#424242" text-anchor="end">7500</text>
<rect x="574.4" y="229.95" width="111" height="14.65" fill="#dcdde0"/>
<text x="629.9" y="240.3" font-size="7.35" fill="#1a1a1a" text-anchor="middle">TP_max_ERA5</text>
<rect x="574.4" y="244.6" width="111" height="84.5" fill="#ececec"/>
<path d="M590.52 244.6V329.1M611.58 244.6V329.1M632.62 244.6V329.1M653.67 244.6V329.1M674.73 244.6V329.1M574.4 313.27H685.4M574.4 289.41H685.4M574.4 265.55H685.4" stroke="#fff" stroke-width="0.5" fill="none"/>
<path d="M580 244.6V329.1M601.05 244.6V329.1M622.1 244.6V329.1M643.15 244.6V329.1M664.2 244.6V329.1M574.4 325.2H685.4M574.4 301.34H685.4M574.4 277.48H685.4M574.4 253.62H685.4" stroke="#fff" stroke-width="1.0" fill="none"/>
<path d="M579.45 325.2v-0.4h3.36v0.4zM582.81 325.2v-0.4h3.36v0.4zM586.17 325.2v-0.6h3.36v0.6zM589.54 325.2v-1.2h3.36v1.2zM592.9 325.2v-1.8h3.36v1.8zM596.26 325.2v-4.8h3.36v4.8zM599.63 325.2v-12.8h3.36v12.8zM602.99 325.2v-14.2h3.36v14.2zM606.35 325.2v-18.8h3.36v18.8zM609.72 325.2v-27.6h3.36v27.6zM613.08 325.2v-36.6h3.36v36.6zM616.45 325.2v-52.2h3.36v52.2zM619.81 325.2v-71.8h3.36v71.8zM623.17 325.2v-76.8h3.36v76.8zM626.54 325.2v-71.6h3.36v71.6zM629.9 325.2v-65.8h3.36v65.8zM633.26 325.2v-49.6h3.36v49.6zM636.63 325.2v-48.2h3.36v48.2zM639.99 325.2v-40.8h3.36v40.8zM643.35 325.2v-30.8h3.36v30.8zM646.72 325.2v-24.6h3.36v24.6zM650.08 325.2v-20.2h3.36v20.2zM653.45 325.2v-14.8h3.36v14.8zM656.81 325.2v-11.8h3.36v11.8zM660.17 325.2v-8.6h3.36v8.6zM663.54 325.2v-4.8h3.36v4.8zM666.9 325.2v-2.8h3.36v2.8zM670.26 325.2v-1.2h3.36v1.2zM673.63 325.2v-0.6h3.36v0.6zM676.99 325.2v-0.4h3.36v0.4z" fill="#fff" stroke="#000" stroke-width="0.92" stroke-linejoin="miter"/>
<path d="M580 329.1v2.2M601.05 329.1v2.2M622.1 329.1v2.2M643.15 329.1v2.2M664.2 329.1v2.2M574.4 325.2h-2.2M574.4 301.34h-2.2M574.4 277.48h-2.2M574.4 253.62h-2.2" stroke="#2b2b2b" stroke-width="1.1" fill="none"/>
<text x="580" y="339" font-size="7.4" fill="#424242" text-anchor="middle">-10</text>
<text x="601.05" y="339" font-size="7.4" fill="#424242" text-anchor="middle">0</text>
<text x="622.1" y="339" font-size="7.4" fill="#424242" text-anchor="middle">10</text>
<text x="643.15" y="339" font-size="7.4" fill="#424242" text-anchor="middle">20</text>
<text x="664.2" y="339" font-size="7.4" fill="#424242" text-anchor="middle">30</text>
<text x="570.8" y="327.8" font-size="7.4" fill="#424242" text-anchor="end">0</text>
<text x="570.8" y="303.94" font-size="7.4" fill="#424242" text-anchor="end">500</text>
<text x="570.8" y="280.08" font-size="7.4" fill="#424242" text-anchor="end">1000</text>
<text x="570.8" y="256.22" font-size="7.4" fill="#424242" text-anchor="end">1500</text>
<rect x="31" y="345.3" width="111" height="14.7" fill="#dcdde0"/>
<text x="86.5" y="355.65" font-size="7.35" fill="#1a1a1a" text-anchor="middle">TP_mean_ERA5</text>
<rect x="31" y="360" width="111" height="84.1" fill="#ececec"/>
<path d="M38.1 360V444.1M60.3 360V444.1M82.5 360V444.1M104.7 360V444.1M126.9 360V444.1M31 428.73H142M31 405.39H142M31 382.05H142" stroke="#fff" stroke-width="0.5" fill="none"/>
<path d="M49.2 360V444.1M71.4 360V444.1M93.6 360V444.1M115.8 360V444.1M138 360V444.1M31 440.4H142M31 417.06H142M31 393.72H142M31 370.38H142" stroke="#fff" stroke-width="1.0" fill="none"/>
<path d="M36.05 440.4v-0.4h3.36v0.4zM39.41 440.4v-0.4h3.36v0.4zM42.77 440.4v-0.4h3.36v0.4zM46.14 440.4v-0.6h3.36v0.6zM49.5 440.4v-1h3.36v1zM52.86 440.4v-1.2h3.36v1.2zM56.23 440.4v-1.8h3.36v1.8zM59.59 440.4v-4h3.36v4zM62.95 440.4v-8h3.36v8zM66.32 440.4v-16h3.36v16zM69.68 440.4v-21h3.36v21zM73.05 440.4v-22h3.36v22zM76.41 440.4v-32h3.36v32zM79.77 440.4v-54h3.36v54zM83.14 440.4v-71h3.36v71zM86.5 440.4v-73h3.36v73zM89.86 440.4v-77h3.36v77zM93.23 440.4v-68h3.36v68zM96.59 440.4v-56h3.36v56zM99.95 440.4v-44h3.36v44zM103.32 440.4v-35h3.36v35zM106.68 440.4v-33h3.36v33zM110.05 440.4v-26h3.36v26zM113.41 440.4v-18.8h3.36v18.8zM116.77 440.4v-15h3.36v15zM120.14 440.4v-10h3.36v10zM123.5 440.4v-5h3.36v5zM126.86 440.4v-3h3.36v3zM130.23 440.4v-1.4h3.36v1.4zM133.59 440.4v-0.6h3.36v0.6z" fill="#fff" stroke="#000" stroke-width="0.92" stroke-linejoin="miter"/>
<path d="M49.2 444.1v2.2M71.4 444.1v2.2M93.6 444.1v2.2M115.8 444.1v2.2M138 444.1v2.2M31 440.4h-2.2M31 417.06h-2.2M31 393.72h-2.2M31 370.38h-2.2" stroke="#2b2b2b" stroke-width="1.1" fill="none"/>
<text x="49.2" y="454" font-size="7.4" fill="#424242" text-anchor="middle">-10</text>
<text x="71.4" y="454" font-size="7.4" fill="#424242" text-anchor="middle">0</text>
<text x="93.6" y="454" font-size="7.4" fill="#424242" text-anchor="middle">10</text>
<text x="115.8" y="454" font-size="7.4" fill="#424242" text-anchor="middle">20</text>
<text x="138" y="454" font-size="7.4" fill="#424242" text-anchor="middle">30</text>
<text x="27.4" y="443" font-size="7.4" fill="#424242" text-anchor="end">0</text>
<text x="27.4" y="419.66" font-size="7.4" fill="#424242" text-anchor="end">500</text>
<text x="27.4" y="396.32" font-size="7.4" fill="#424242" text-anchor="end">1000</text>
<text x="27.4" y="372.98" font-size="7.4" fill="#424242" text-anchor="end">1500</text>
<rect x="167" y="345.3" width="111" height="14.7" fill="#dcdde0"/>
<text x="222.5" y="355.65" font-size="7.35" fill="#1a1a1a" text-anchor="middle">TP_min_ERA5</text>
<rect x="167" y="360" width="111" height="84.1" fill="#ececec"/>
<path d="M170.35 360V444.1M190.45 360V444.1M210.55 360V444.1M230.65 360V444.1M250.75 360V444.1M270.85 360V444.1M167 429.8H278M167 408.6H278M167 387.4H278M167 366.2H278" stroke="#fff" stroke-width="0.5" fill="none"/>
<path d="M180.4 360V444.1M200.5 360V444.1M220.6 360V444.1M240.7 360V444.1M260.8 360V444.1M167 440.4H278M167 419.2H278M167 398H278M167 376.8H278" stroke="#fff" stroke-width="1.0" fill="none"/>
<path d="M172.05 440.4v-0.4h3.36v0.4zM175.41 440.4v-0.4h3.36v0.4zM178.77 440.4v-0.4h3.36v0.4zM182.14 440.4v-0.4h3.36v0.4zM185.5 440.4v-0.4h3.36v0.4zM188.86 440.4v-0.5h3.36v0.5zM192.23 440.4v-0.8h3.36v0.8zM195.59 440.4v-1.2h3.36v1.2zM198.95 440.4v-1.6h3.36v1.6zM202.32 440.4v-2h3.36v2zM205.68 440.4v-4h3.36v4zM209.05 440.4v-12h3.36v12zM212.41 440.4v-21h3.36v21zM215.77 440.4v-32h3.36v32zM219.14 440.4v-44h3.36v44zM222.5 440.4v-57.8h3.36v57.8zM225.86 440.4v-75h3.36v75zM229.23 440.4v-77h3.36v77zM232.59 440.4v-71h3.36v71zM235.95 440.4v-62h3.36v62zM239.32 440.4v-46h3.36v46zM242.68 440.4v-39.8h3.36v39.8zM246.05 440.4v-35.4h3.36v35.4zM249.41 440.4v-23.8h3.36v23.8zM252.77 440.4v-13h3.36v13zM256.14 440.4v-8h3.36v8zM259.5 440.4v-4h3.36v4zM262.86 440.4v-1.4h3.36v1.4zM266.23 440.4v-0.6h3.36v0.6zM269.59 440.4v-0.4h3.36v0.4z" fill="#fff" stroke="#000" stroke-width="0.92" stroke-linejoin="miter"/>
<path d="M180.4 444.1v2.2M200.5 444.1v2.2M220.6 444.1v2.2M240.7 444.1v2.2M260.8 444.1v2.2M167 440.4h-2.2M167 419.2h-2.2M167 398h-2.2M167 376.8h-2.2" stroke="#2b2b2b" stroke-width="1.1" fill="none"/>
<text x="180.4" y="454" font-size="7.4" fill="#424242" text-anchor="middle">-20</text>
<text x="200.5" y="454" font-size="7.4" fill="#424242" text-anchor="middle">-10</text>
<text x="220.6" y="454" font-size="7.4" fill="#424242" text-anchor="middle">0</text>
<text x="240.7" y="454" font-size="7.4" fill="#424242" text-anchor="middle">10</text>
<text x="260.8" y="454" font-size="7.4" fill="#424242" text-anchor="middle">20</text>
<text x="163.4" y="443" font-size="7.4" fill="#424242" text-anchor="end">0</text>
<text x="163.4" y="421.8" font-size="7.4" fill="#424242" text-anchor="end">500</text>
<text x="163.4" y="400.6" font-size="7.4" fill="#424242" text-anchor="end">1000</text>
<text x="163.4" y="379.4" font-size="7.4" fill="#424242" text-anchor="end">1500</text>
<rect x="303" y="345.3" width="111" height="14.7" fill="#dcdde0"/>
<text x="358.5" y="355.65" font-size="7.35" fill="#1a1a1a" text-anchor="middle">TPsoil_mean</text>
<rect x="303" y="360" width="111" height="84.1" fill="#ececec"/>
<path d="M305.3 360V444.1M333.9 360V444.1M362.5 360V444.1M391.1 360V444.1M303 426.2H414M303 397.8H414M303 369.4H414" stroke="#fff" stroke-width="0.5" fill="none"/>
<path d="M319.6 360V444.1M348.2 360V444.1M376.8 360V444.1M405.4 360V444.1M303 440.4H414M303 412H414M303 383.6H414" stroke="#fff" stroke-width="1.0" fill="none"/>
<path d="M308.05 440.4v-0.4h3.36v0.4zM311.41 440.4v-0.6h3.36v0.6zM314.77 440.4v-7h3.36v7zM318.14 440.4v-34h3.36v34zM321.5 440.4v-31.4h3.36v31.4zM324.86 440.4v-30h3.36v30zM328.23 440.4v-30.8h3.36v30.8zM331.59 440.4v-47h3.36v47zM334.95 440.4v-63h3.36v63zM338.32 440.4v-77h3.36v77zM341.68 440.4v-75.4h3.36v75.4zM345.05 440.4v-71h3.36v71zM348.41 440.4v-71.4h3.36v71.4zM351.77 440.4v-57h3.36v57zM355.14 440.4v-42h3.36v42zM358.5 440.4v-33.4h3.36v33.4zM361.86 440.4v-32.8h3.36v32.8zM365.23 440.4v-32.8h3.36v32.8zM368.59 440.4v-27h3.36v27zM371.95 440.4v-23h3.36v23zM375.32 440.4v-18.8h3.36v18.8zM378.68 440.4v-14h3.36v14zM382.05 440.4v-11h3.36v11zM385.41 440.4v-6.4h3.36v6.4zM388.77 440.4v-4.8h3.36v4.8zM392.14 440.4v-3h3.36v3zM395.5 440.4v-1.8h3.36v1.8zM398.86 440.4v-1.4h3.36v1.4zM402.23 440.4v-1h3.36v1zM405.59 440.4v-0.6h3.36v0.6z" fill="#fff" stroke="#000" stroke-width="0.92" stroke-linejoin="miter"/>
<path d="M319.6 444.1v2.2M348.2 444.1v2.2M376.8 444.1v2.2M405.4 444.1v2.2M303 440.4h-2.2M303 412h-2.2M303 383.6h-2.2" stroke="#2b2b2b" stroke-width="1.1" fill="none"/>
<text x="319.6" y="454" font-size="7.4" fill="#424242" text-anchor="middle">0</text>
<text x="348.2" y="454" font-size="7.4" fill="#424242" text-anchor="middle">10</text>
<text x="376.8" y="454" font-size="7.4" fill="#424242" text-anchor="middle">20</text>
<text x="405.4" y="454" font-size="7.4" fill="#424242" text-anchor="middle">30</text>
<text x="299.4" y="443" font-size="7.4" fill="#424242" text-anchor="end">0</text>
<text x="299.4" y="414.6" font-size="7.4" fill="#424242" text-anchor="end">500</text>
<text x="299.4" y="386.2" font-size="7.4" fill="#424242" text-anchor="end">1000</text>
<rect x="438.7" y="345.3" width="111" height="14.7" fill="#dcdde0"/>
<text x="494.2" y="355.65" font-size="7.35" fill="#1a1a1a" text-anchor="middle">swvl1_mean</text>
<rect x="438.7" y="360" width="111" height="84.1" fill="#ececec"/>
<path d="M447.65 360V444.1M479.55 360V444.1M511.45 360V444.1M543.35 360V444.1M438.7 425.9H549.7M438.7 396.9H549.7M438.7 367.9H549.7" stroke="#fff" stroke-width="0.5" fill="none"/>
<path d="M463.6 360V444.1M495.5 360V444.1M527.4 360V444.1M438.7 440.4H549.7M438.7 411.4H549.7M438.7 382.4H549.7" stroke="#fff" stroke-width="1.0" fill="none"/>
<path d="M443.75 440.4v-0.6h3.36v0.6zM447.11 440.4v-1.4h3.36v1.4zM450.47 440.4v-3h3.36v3zM453.84 440.4v-5.4h3.36v5.4zM457.2 440.4v-6h3.36v6zM460.56 440.4v-7.8h3.36v7.8zM463.93 440.4v-9.2h3.36v9.2zM467.29 440.4v-12h3.36v12zM470.65 440.4v-13.8h3.36v13.8zM474.02 440.4v-17h3.36v17zM477.38 440.4v-24h3.36v24zM480.75 440.4v-31h3.36v31zM484.11 440.4v-42h3.36v42zM487.47 440.4v-61.8h3.36v61.8zM490.84 440.4v-77h3.36v77zM494.2 440.4v-72h3.36v72zM497.56 440.4v-37.4h3.36v37.4zM500.93 440.4v-6h3.36v6zM504.29 440.4v-3h3.36v3zM507.65 440.4v-1.4h3.36v1.4zM511.02 440.4v-0.6h3.36v0.6zM514.38 440.4v-0.6h3.36v0.6zM517.75 440.4v-0.6h3.36v0.6zM521.11 440.4v-0.6h3.36v0.6zM524.47 440.4v-0.6h3.36v0.6zM527.84 440.4v-0.8h3.36v0.8zM531.2 440.4v-0.8h3.36v0.8zM534.56 440.4v-0.8h3.36v0.8zM537.93 440.4v-0.4h3.36v0.4zM541.29 440.4v-0.4h3.36v0.4z" fill="#fff" stroke="#000" stroke-width="0.92" stroke-linejoin="miter"/>
<path d="M463.6 444.1v2.2M495.5 444.1v2.2M527.4 444.1v2.2M438.7 440.4h-2.2M438.7 411.4h-2.2M438.7 382.4h-2.2" stroke="#2b2b2b" stroke-width="1.1" fill="none"/>
<text x="463.6" y="454" font-size="7.4" fill="#424242" text-anchor="middle">0.2</text>
<text x="495.5" y="454" font-size="7.4" fill="#424242" text-anchor="middle">0.4</text>
<text x="527.4" y="454" font-size="7.4" fill="#424242" text-anchor="middle">0.6</text>
<text x="435.1" y="443" font-size="7.4" fill="#424242" text-anchor="end">0</text>
<text x="435.1" y="414" font-size="7.4" fill="#424242" text-anchor="end">1000</text>
<text x="435.1" y="385" font-size="7.4" fill="#424242" text-anchor="end">2000</text>
<text x="358" y="465.4" font-size="9.15" fill="#000" text-anchor="middle">Quantitative measurement values</text>
<text transform="translate(7.3 229.5) rotate(-90)" font-size="9.15" fill="#000" text-anchor="middle">Count</text>
</svg>
</body></html>
